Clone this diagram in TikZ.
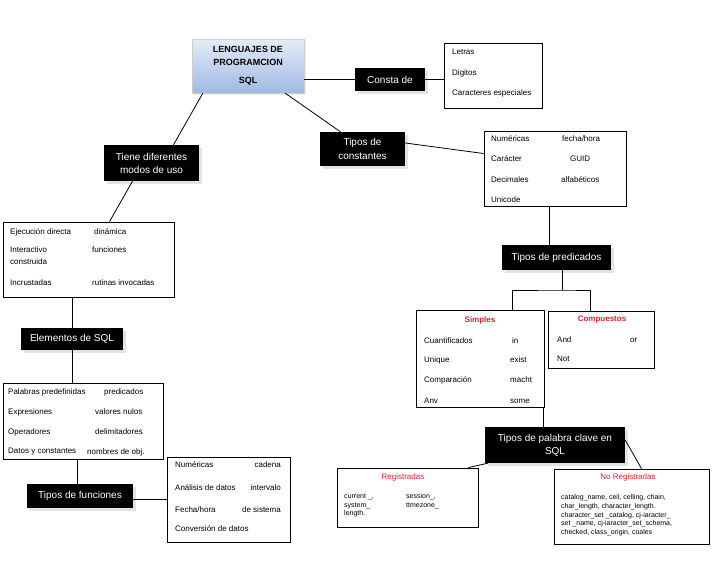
\documentclass[tikz,border=0pt]{standalone}
\usepackage{fontspec}
\setmainfont{Liberation Sans}
\usetikzlibrary{shadows}

\definecolor{titlered}{RGB}{220,35,45}
\definecolor{mainlight}{RGB}{228,236,248}
\definecolor{maindark}{RGB}{160,185,226}

\tikzset{
    blackbox/.style={fill=black, text=white, align=center, inner sep=2pt,
        font=\fontsize{10}{13}\selectfont,
        drop shadow={shadow xshift=2.5pt, shadow yshift=-2.5pt, fill=black!22}},
    listbox/.style={draw, line width=0.8pt, inner sep=0pt},
    itemtxt/.style={anchor=west, inner sep=0pt, font=\fontsize{8}{9}\selectfont},
    itemtxtr/.style={itemtxt, anchor=east},
    smalltxt/.style={itemtxt, font=\fontsize{7}{8}\selectfont},
    redtitle/.style={inner sep=0pt, text=titlered, font=\bfseries\fontsize{8}{9}\selectfont},
    redplain/.style={inner sep=0pt, text=titlered, font=\fontsize{8}{9}\selectfont},
    link/.style={line width=0.8pt},
}

% one column of entries: name, x, {text/y, ...}
\newcommand{\fillcol}[4][itemtxt]{
    \foreach \txt/\yy [count=\i] in {#4} {
        \node[#1] (#2\i) at (#3, \yy) {\txt};
    }
}

\begin{document}
\begin{tikzpicture}[x=1pt, y=-1pt]
    \useasboundingbox (0,0) rectangle (728,563);

    %% Top
    \node[draw=black!20, top color=mainlight, bottom color=maindark,
        drop shadow={shadow xshift=1.5pt, shadow yshift=-1.5pt, fill=black!12},
        minimum width=112pt, minimum height=54pt, align=center,
        font=\bfseries\fontsize{9}{13}\selectfont] (main) at (248,66)
        {LENGUAJES DE\\PROGRAMCION\\[5pt]SQL};

    \node[blackbox, minimum width=70pt, minimum height=23pt] (consta) at (390,79.5) {Consta de};
    \node[listbox, minimum width=98pt, minimum height=65pt] (letrasbox) at (493,75.5) {};
    \fillcol{letras}{452}{Letras/52, Digitos/73, Caracteres especiales/93}

    % Tipos de constantes
    \node[blackbox, minimum width=85pt, minimum height=34pt, font=\fontsize{10}{14}\selectfont] (tconst) at (362.5,149) {Tipos de\\constantes};
    \node[listbox, minimum width=142pt, minimum height=75pt] (numerbox) at (555,168.5) {};
    \fillcol{numera}{491}{Numéricas/139, Carácter/159, Decimales/180, Unicode/200}
    \fillcol{numerb}{562}{{fecha/hora}/139}
    \fillcol{numerc}{570}{GUID/159}
    \fillcol{numerd}{561}{alfabéticos/180}

    % Predicados
    \node[blackbox, minimum width=109pt, minimum height=25pt] (tpred) at (556.5,257.5) {Tipos de predicados};
    \node[listbox, minimum width=128pt, minimum height=97pt] (simples) at (480,358.5) {};
    \node[redtitle] (simplestit) at (480,320) {Simples};
    \fillcol{simpa}{424}{Cuantificados/341, Unique/360, Comparación/380, Anv/401}
    \fillcol{simpb}{512}{in/341}
    \fillcol{simpc}{510}{exist/360, macht/380, some/401}

    \node[listbox, minimum width=106pt, minimum height=57pt] (compuestos) at (601,339.5) {};
    \node[redtitle] (comptit) at (602,320) {Compuestos};
    \fillcol{compa}{557}{And/340, Not/359}
    \fillcol{compb}{630}{or/340}

    % Palabra clave
    \node[blackbox, minimum width=140pt, minimum height=36pt] (tclave) at (555,445) {Tipos de palabra clave en\\SQL};
    \node[listbox, minimum width=141pt, minimum height=59pt] (regis) at (407.5,497.5) {};
    \node[redplain] (registit) at (403,477) {Registradas};
    \fillcol[smalltxt]{rega}{344}{{current \_,}/497, system\_/505.5, length./514}
    \fillcol[smalltxt]{regb}{406}{{session\_,}/497, ttmezone\_/505.5}

    \node[listbox, minimum width=155pt, minimum height=75pt] (noreg) at (631.5,506.5) {};
    \node[redplain] (noregtit) at (628,477) {No Registradas};
    \fillcol[smalltxt]{noreg}{561}{{catalog\_name, ceil, celling, chain,}/498,
        {char\_length, character\_length.}/506.7,
        {character\_set \_catalog, cj-iaracter\_}/515.4,
        {set \_name, cj-iaracter\_set\_schema,}/524.1,
        {checked, class\_origin, coales}/532.8}

    %% Left side
    \node[blackbox, minimum width=95pt, minimum height=36pt] (tiene) at (151.5,163) {Tiene diferentes\\modos de uso};
    \node[listbox, minimum width=171pt, minimum height=75pt] (modosbox) at (88.5,259.5) {};
    \fillcol{modosa}{10}{Ejecución directa/232, Interactivo/250, construida/262, Incrustadas/283}
    \fillcol{modosb}{94}{dinámica/232}
    \fillcol{modosc}{92}{funciones/250, rutinas invocadas/283}

    \node[blackbox, minimum width=102pt, minimum height=22pt] (elem) at (72,339) {Elementos de SQL};
    \node[listbox, minimum width=160pt, minimum height=76pt] (palabrasbox) at (83,421) {};
    \fillcol{pala}{8}{Palabras predefinidas/392, Expresiones/412, Operadores/432, Datos y constantes/452}
    \fillcol{palb}{104}{predicados/392}
    \fillcol{palc}{95}{valores nulos/412, delimitadores/432}
    \fillcol{pald}{87}{nombres de obj./452}

    \node[blackbox, minimum width=106pt, minimum height=24pt] (tfunc) at (80,496) {Tipos de funciones};
    \node[listbox, minimum width=123pt, minimum height=85pt] (funcsbox) at (228.5,499.5) {};
    \fillcol{funca}{175}{Numéricas/465, Análisis de datos/488, {Fecha/hora}/510, Conversión de datos/529}
    \fillcol[itemtxtr]{funcb}{281}{cadena/465, intervalo/488, de sistema/510}

    %% Connectors
    \draw[link] (main.east |- consta.west) -- (consta.west);
    \draw[link] (consta.east) -- (consta.east -| letrasbox.west);
    \draw[link] ([xshift=11pt]main.south west) -- ([xshift=22pt]tiene.north);
    \draw[link] ([xshift=-19pt]main.south east) -- ([xshift=-22pt]tconst.north);
    \draw[link] ([yshift=6pt]tconst.east) -- ([yshift=15pt]numerbox.west);
    \draw[link] ([xshift=-6pt]numerbox.south) -- ([xshift=-6pt]numerbox.south |- tpred.north);
    \coordinate (fork) at (562,290);
    \draw[link] (tpred.south -| fork) -- (fork);
    \draw[link] ([xshift=32pt]simples.north) |- (fork) -| ([xshift=-11pt]compuestos.north);
    \draw[link] ([xshift=63pt]simples.south) -- ([xshift=63pt]simples.south |- tclave.north);
    \draw[link] ([xshift=3pt]tclave.south west) -- ([xshift=-10pt]regis.north east);
    \draw[link] ([yshift=5pt]tclave.east) -- ([xshift=10pt]noreg.north);
    \draw[link] ([xshift=-19pt]tiene.south) -- ([xshift=21pt]modosbox.north);
    \draw[link] (elem.north |- modosbox.south) -- (elem.north);
    \draw[link] (elem.south) -- (elem.south |- palabrasbox.north);
    \draw[link] ([xshift=-3pt]tfunc.north |- palabrasbox.south) -- ([xshift=-3pt]tfunc.north);
    \draw[link] ([yshift=-3pt]tfunc.east) -- ([yshift=-3pt]tfunc.east -| funcsbox.west);

\end{tikzpicture}
\end{document}
